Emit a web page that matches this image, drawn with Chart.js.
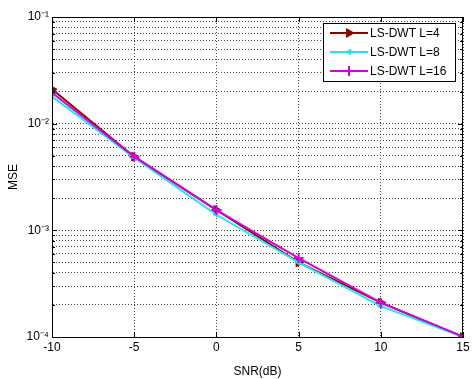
<!DOCTYPE html>
<html><head><meta charset="utf-8">
<script src="https://cdn.jsdelivr.net/npm/chart.js@4/dist/chart.umd.min.js"></script>
<style>html,body{margin:0;padding:0;background:#fff}#wrap{width:474px;height:379px}</style>
</head><body><div id="wrap"><canvas id="c" width="474" height="379"></canvas></div>
<script>
const snr = [-10, -5, 0, 5, 10, 15];
const mseL4 = [0.021, 0.0049, 0.00155, 0.0005, 0.00021, 0.0001];
const mseL8 = [0.018, 0.0048, 0.0014, 0.0005, 0.000195, 0.0001];
const mseL16 = [0.0195, 0.0049, 0.00155, 0.00055, 0.00021, 0.000101];
const seriesLabels = ['LS-DWT L=4', 'LS-DWT L=8', 'LS-DWT L=16'];
const xTicks = [-10, -5, 0, 5, 10, 15];
const yDecades = [1e-4, 1e-3, 1e-2, 1e-1];
const yDecadeLabels = ['10\u207B\u2074', '10\u207B\u00B3', '10\u207B\u00B2', '10\u207B\u00B9'];

const yTickValues = [];
for (let e = -4; e < -1; e++) for (let m = 1; m <= 9; m++) yTickValues.push(m * Math.pow(10, e));
yTickValues.push(1e-1);

Chart.defaults.font.family = "'Liberation Sans', Arial, sans-serif";
Chart.defaults.font.size = 12;
Chart.defaults.color = '#000';

const pts = arr => arr.map((v, i) => ({x: snr[i], y: v}));

const boxPlugin = {
  id: 'box',
  afterDatasetsDraw(chart) {
    const {ctx, chartArea: a, scales} = chart;
    ctx.save();
    ctx.strokeStyle = '#000'; ctx.lineWidth = 1;
    ctx.strokeRect(a.left + 0.5, a.top + 0.5, a.right - a.left - 1, a.bottom - a.top);
    ctx.beginPath();
    scales.x.ticks.forEach(t => {
      const px = Math.round(scales.x.getPixelForValue(t.value)) + 0.5;
      ctx.moveTo(px, a.bottom); ctx.lineTo(px, a.bottom - 5);
      ctx.moveTo(px, a.top); ctx.lineTo(px, a.top + 5);
    });
    scales.y.ticks.forEach(t => {
      const major = yDecades.some(d => Math.abs(d - t.value) / d < 1e-6);
      const len = major ? 5 : 3;
      const py = Math.round(scales.y.getPixelForValue(t.value)) + 0.5;
      ctx.moveTo(a.left, py); ctx.lineTo(a.left + len, py);
      ctx.moveTo(a.right, py); ctx.lineTo(a.right - len, py);
    });
    ctx.stroke();
    ctx.restore();
  }
};

const legendPlugin = {
  id: 'mlegend',
  afterDraw(chart) {
    const {ctx, chartArea: a} = chart;
    const w = 132, h = 58;
    const left = a.right - 8 - w, top = a.top + 6;
    ctx.save();
    ctx.fillStyle = '#fff';
    ctx.fillRect(left, top, w, h);
    ctx.strokeStyle = '#000'; ctx.lineWidth = 1;
    ctx.strokeRect(left + 0.5, top + 0.5, w, h);
    chart.data.datasets.forEach((ds, i) => {
      const y = top + 10 + i * 19;
      ctx.strokeStyle = ds.borderColor; ctx.lineWidth = 2;
      ctx.beginPath(); ctx.moveTo(left + 7, y); ctx.lineTo(left + 45, y); ctx.stroke();
      ctx.fillStyle = ds.pointBackgroundColor;
      ctx.strokeStyle = ds.pointBorderColor;
      ctx.lineWidth = ds.pointBorderWidth || 1;
      Chart.helpers.drawPoint(ctx, {
        pointStyle: ds.pointStyle, rotation: ds.pointRotation || 0,
        radius: ds.pointRadius, borderWidth: ds.pointBorderWidth || 1
      }, left + 26, y);
      ctx.fillStyle = '#000';
      ctx.font = "12px 'Liberation Sans', Arial, sans-serif";
      ctx.textBaseline = 'middle';
      ctx.fillText(ds.label, left + 47, y + 1);
    });
    ctx.restore();
  }
};

new Chart(document.getElementById('c'), {
  type: 'line',
  data: {
    datasets: [
      {label: seriesLabels[0], data: pts(mseL4), borderColor: '#8B0000', backgroundColor: '#8B0000',
       pointBackgroundColor: '#8B0000', pointBorderColor: '#8B0000', order: 2,
       borderWidth: 2, pointStyle: 'triangle', pointRotation: 90, pointRadius: 5, pointBorderWidth: 1},
      {label: seriesLabels[1], data: pts(mseL8), borderColor: '#22E5F0', backgroundColor: '#22E5F0',
       pointBackgroundColor: '#22E5F0', pointBorderColor: '#22E5F0', order: 1,
       borderWidth: 2, pointStyle: 'triangle', pointRotation: -90, pointRadius: 3, pointBorderWidth: 1},
      {label: seriesLabels[2], data: pts(mseL16), borderColor: '#D400D4', backgroundColor: '#D400D4',
       pointBackgroundColor: '#D400D4', pointBorderColor: '#D400D4', order: 0,
       borderWidth: 2, pointStyle: 'cross', pointRadius: 5, pointBorderWidth: 2}
    ]
  },
  options: {
    responsive: false,
    animation: false,
    layout: {padding: {top: 17, right: 11, left: 0, bottom: 0}},
    plugins: {legend: {display: false}, tooltip: {enabled: false}},
    elements: {line: {tension: 0}},
    scales: {
      x: {
        type: 'linear', min: -10, max: 15,
        afterBuildTicks: s => { s.ticks = xTicks.map(v => ({value: v})); },
        afterFit: s => { s.height = 42; },
        ticks: {padding: 3, callback: v => String(v), maxRotation: 0},
        grid: {color: '#444', drawTicks: false, lineWidth: 1},
        border: {display: true, color: '#000', dash: [1, 2]},
        title: {display: true, text: 'SNR(dB)', padding: {top: 3, bottom: 0}}
      },
      y: {
        type: 'logarithmic', min: 1e-4, max: 1e-1,
        afterBuildTicks: s => { s.ticks = yTickValues.map(v => ({value: v})); },
        afterFit: s => { s.width = 52; },
        ticks: {
          padding: 3, autoSkip: false,
          callback: v => {
            const i = yDecades.findIndex(d => Math.abs(d - v) / d < 1e-6);
            return i >= 0 ? yDecadeLabels[i] : '';
          }
        },
        grid: {color: '#444', drawTicks: false, lineWidth: 1},
        border: {display: true, color: '#000', dash: [1, 2]},
        title: {display: true, text: 'MSE', padding: {top: 6, bottom: 4}}
      }
    }
  },
  plugins: [boxPlugin, legendPlugin]
});
</script></body></html>
